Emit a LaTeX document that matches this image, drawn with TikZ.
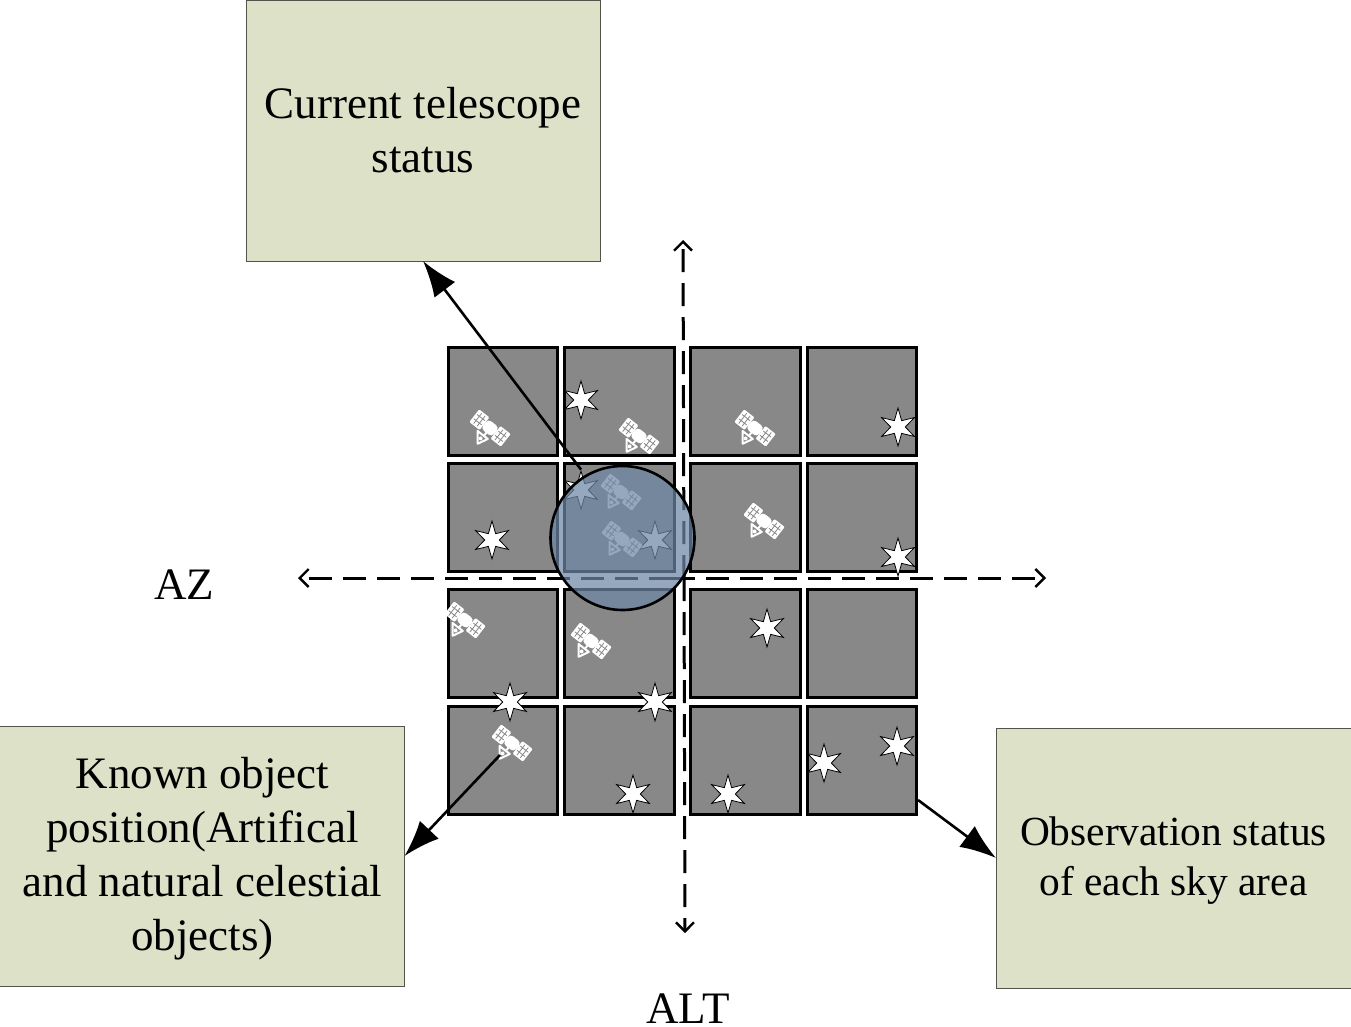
\documentclass[tikz,border=0pt]{standalone}
\usepackage{fontspec}
\setmainfont{Liberation Serif}
\usetikzlibrary{shapes.geometric,arrows.meta}
\definecolor{boxfill}{RGB}{221,225,200}
\definecolor{boxline}{RGB}{80,85,75}
\definecolor{cellfill}{RGB}{136,136,136}
\definecolor{lens}{RGB}{110,135,165}
\tikzset{
  x=1pt,y=-1pt,
  cell/.style={draw=black,fill=cellfill,line width=2.6pt,minimum width=109.5pt,minimum height=108.5pt,inner sep=0pt,outer sep=0pt},
  starmark/.style={star,star points=6,star point ratio=2.6,minimum size=38pt,inner sep=0pt,draw=black,fill=white,line width=0.8pt},
  infobox/.style={draw=boxline,fill=boxfill,line width=1pt,inner sep=0pt,outer sep=0pt,align=center},
  boxtext/.style={font=\fontsize{45}{54}\selectfont,align=center,inner sep=0pt},
  axislabel/.style={font=\fontsize{45}{54}\selectfont,inner sep=0pt},
  axisline/.style={draw=black,line width=3pt,dash pattern=on 23pt off 11pt,-{Straight Barb[length=9pt,width=18pt,line width=2.4pt]}},
  pointer/.style={draw=black,line width=2.6pt,-{Latex[length=36pt,width=26pt]}},
  pics/satellite/.style={code={
    \begin{scope}[rotate=-38]
      \fill[white,rounded corners=4pt] (-7,-6) rectangle (7,6);
      \foreach \sx in {-1,1}{
        \begin{scope}[xscale=\sx]
        \fill[white,rounded corners=1pt] (7,-8) rectangle (20,8);
        \foreach \gx in {11.3,15.6}{\draw[cellfill,line width=0.8pt] (\gx,-6.5) -- (\gx,6.5);}
        \foreach \gy in {-2.7,2.7}{\draw[cellfill,line width=0.8pt] (8.5,\gy) -- (18.5,\gy);}
        \end{scope}}
      \draw[white,line width=2pt] (0,6) -- (0,10);
      \draw[white,line width=2pt,line join=round,fill=cellfill,fill opacity=0.5,xshift=-2pt] (-6,10) -- (7,10) -- (2,20) -- cycle;
      \fill[white,xshift=-2pt] (1,14) circle (2pt);
    \end{scope}}}
}
\begin{document}
\begin{tikzpicture}
\useasboundingbox (0,0) rectangle (1351,1026);
% sky cells
\foreach \n/\cx/\cy in {a1/503/401.5,a2/619.5/401.5,a3/745.5/401.5,a4/862/401.5,
  b1/503/517.5,b2/619.5/517.5,b3/745.5/517.5,b4/862/517.5,
  c1/503/643.5,c2/619.5/643.5,c3/745.5/643.5,c4/862/643.5,
  d1/503/760.5,d2/619.5/760.5,d3/745.5/760.5,d4/862/760.5}
  \node[cell] (\n) at (\cx,\cy) {};
% axes
\coordinate (azl) at (298,578);
\coordinate (azr) at (1046,578);
\coordinate (altt) at (683,240);
\coordinate (altb) at (685,933);
\coordinate (azm) at (672,578);
\coordinate (altm) at (684,578);
\draw[axisline] (altm) -- (altt);
\draw[axisline] (altm) -- (altb);
\draw[axisline] (azm) -- (azl);
\draw[axisline] (azm) -- (azr);
% stars
\foreach \n/\sx/\sy in {st1/581/400,st2/898/427,st3/581/490,st4/492/540,st5/655/540,st6/898/557,st7/767/628,
  st8/510/702,st9/655/702,st10/633/794,st11/728/794,st12/824/763,st13/897/746}
  \node[starmark] (\n) at (\sx,\sy) {};
% satellites
\foreach \n/\sx/\sy in {sa1/490/428,sa2/639/436,sa3/755/428,sa4/621/492,sa5/622/539,sa6/764/521,sa7/465/620,sa8/591/641,sa9/512/743}{
  \coordinate (\n) at (\sx,\sy);
  \pic at (\n) {satellite};}
% info boxes
\node[infobox,minimum width=354pt,minimum height=261pt] (status) at (423,130.5) {};
\node[boxtext] (statustxt) at (423,130) {Current telescope\\status};
\node[infobox,minimum width=405pt,minimum height=260pt] (known) at (202,856) {};
\node[boxtext] (knowntxt) at (202.5,859) {Known object\\position(Artifical\\and natural celestial\\objects)};
\node[infobox,minimum width=355pt,minimum height=260pt] (obs) at (1173.5,858) {};
\node[boxtext,font=\fontsize{41.4}{50}\selectfont] (obstxt) at (1173.5,861) {Observation status\\of each sky area};
% axis labels
\node[axislabel] (az) at (184,585) {AZ};
\node[axislabel] (alt) at (688,1009) {ALT};
% pointers
\coordinate (cellcorner) at (918,800);
\draw[pointer] (st3.north) -- (status.south);
\draw[pointer] (sa9) ++(-12,12) coordinate (sa9tail) (sa9tail) -- (known.east);
\draw[pointer] (cellcorner) -- (obs.west);
% telescope field of view
\node[circle,draw=black,line width=2.6pt,fill=lens,fill opacity=0.72,minimum size=144pt,inner sep=0pt] (fov) at (622.5,538) {};
\end{tikzpicture}
\end{document}
